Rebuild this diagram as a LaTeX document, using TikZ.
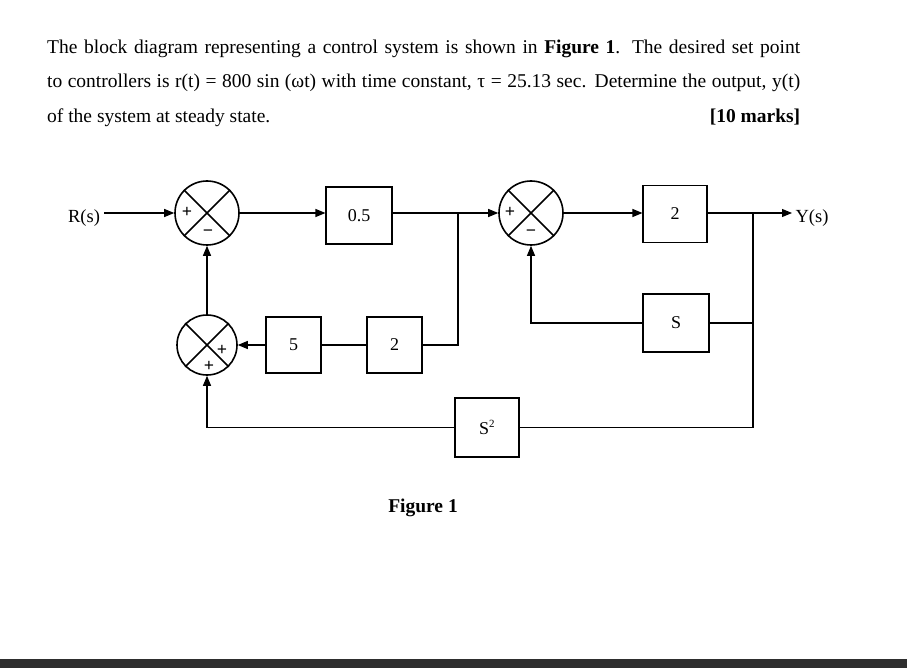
\documentclass[tikz,border=0pt]{standalone}
\usepackage{fontspec}
\setmainfont{Liberation Serif}
\usetikzlibrary{arrows.meta}
\begin{document}
\begin{tikzpicture}[x=1pt,y=-1pt,
  blk/.style={draw,line width=1.1pt,minimum width=#1,minimum height=57pt,inner sep=0pt,font=\fontsize{18}{20}\selectfont},
  blk/.default=64pt,
  sum/.style={draw,line width=1.6pt,circle,minimum size=#1,inner sep=0pt},
  ln/.style={line width=1.1pt},
  ar/.style={ln,-{Triangle[length=10pt,width=8pt]}},
  sg/.style={font=\fontsize{18}{18}\selectfont\bfseries,inner sep=0pt}]
\useasboundingbox (0,0) rectangle (907,668);
\fill[white] (0,0) rectangle (907,668);
\fill[black!82] (0,659) rectangle (907,668);
% text
\tikzset{tl/.style={anchor=base west,inner sep=0pt,font=\fontsize{19.5}{22}\selectfont}}
\node[tl] (t1) at (47,53.5) {\hbox to 753pt{The block diagram representing a control system is shown in \textbf{Figure 1}. The desired set point}};
\node[tl] (t2) at (47,87.5) {\hbox to 753pt{to controllers is r(t) = 800 sin (ωt) with time constant, τ = 25.13 sec. Determine the output, y(t)}};
\node[tl] (t3) at (47,122.5) {\hbox to 753pt{of the system at steady state.\hfill\textbf{[10 marks]}}};
% sums
\foreach \n/\x/\y/\r in {s1/207/213/64pt,s2/531/213/64pt,s3/207/345/60pt}{
  \node[sum=\r] (\n) at (\x,\y) {};
  \draw[line width=1.6pt] (\n.45) -- (\n.225) (\n.135) -- (\n.315);
}
\node[sg] at (187,212) {+}; \node[sg] at (208,233) {−};
\node[sg] at (510,212) {+}; \node[sg] at (531,233) {−};
\node[sg] at (222,350) {+}; \node[sg] at (209,366) {+};
% blocks
\node[blk=66pt] (b05) at (359,215.5) {0.5};
\node[blk] (b2) at (675,214) {2};
\node[blk=66pt,minimum height=58pt] (bs) at (676,323) {S};
\node[blk=55pt,minimum height=56pt] (b5) at (293.5,345) {5};
\node[blk=55pt,minimum height=56pt] (b2l) at (394.5,345) {2};
\node[blk,minimum height=59pt] (bs2) at (487,427.5) {S\textsuperscript{\fontsize{11}{11}\selectfont 2}};
\node[font=\fontsize{18.5}{20}\selectfont] (R) at (84,218) {R(s)};
\node[font=\fontsize{18.5}{20}\selectfont,anchor=west] (Y) at (792,218) {Y(s)};
\node[font=\fontsize{19.5}{22}\selectfont\bfseries] (fig) at (423,508) {Figure 1};
\coordinate (j1) at (458,213);
\coordinate (j2) at (753,213);
% connectors
\draw[ar] (R.east) ++(1,-5) coordinate (r0) -- (s1.west |- r0);
\draw[ar] (s1.east) -- (b05.west |- s1);
\draw[ar] (b05.east |- s2) -- (s2.west);
\draw[ar] (s2.east) -- (b2.west |- s2);
\draw[ar] (b2.east |- s2) -- (Y.west |- s2);
\draw[ln] (b2l.east) -- (j1 |- b2l.east) -- (j1);
\draw[ln] (b2l.west) -- (b5.east);
\draw[ar] (b5.west) -- (s3.east);
\draw[ar] (s3.north) -- (s1.south);
\draw[ar] (bs.west) -- (s2.south |- bs.west) -- (s2.south);
\draw[ln] (bs.east) -- (j2 |- bs.east);
\draw[ln] (j2) -- (j2 |- bs2.east) -- (bs2.east);
\draw[ar] (bs2.west) -- (s3.south |- bs2.west) -- (s3.south);
\end{tikzpicture}
\end{document}
